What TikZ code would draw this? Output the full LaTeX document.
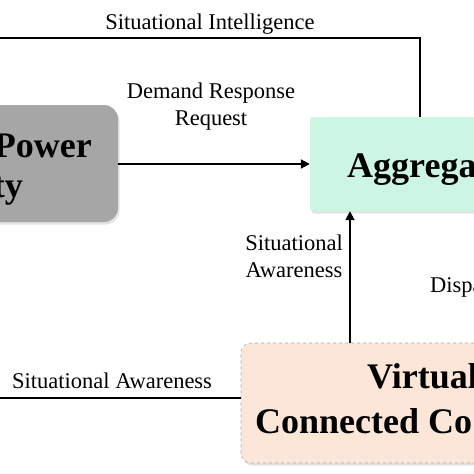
\documentclass[tikz,border=0pt]{standalone}
\usepackage{fontspec}
\setmainfont{Liberation Serif}
\usetikzlibrary{arrows.meta,shadows}
\definecolor{graybox}{RGB}{166,166,166}
\definecolor{mintbox}{RGB}{205,245,228}
\definecolor{peachbox}{RGB}{252,230,216}
\definecolor{dashgray}{RGB}{170,170,170}
\tikzset{
  conn/.style={line width=1.8pt, draw=black},
  tip/.style={-{Triangle[length=9pt,width=9pt]}},
  lbl/.style={font=\fontsize{22.5}{27}\selectfont, inner sep=0pt, align=center},
  big/.style={font=\fontsize{36}{44}\selectfont\bfseries, inner sep=0pt},
  shad/.style={drop shadow={opacity=0.22, shadow xshift=1.5pt, shadow yshift=-2.5pt}},
}
\begin{document}
\begin{tikzpicture}[x=1pt,y=-1pt]
\useasboundingbox (0,0) rectangle (474,474);
\clip (0,0) rectangle (474,474);
\fill[white] (0,0) rectangle (474,474);
% boxes
\node[shad, fill=graybox, rounded corners=14pt, minimum width=138pt, minimum height=117pt, inner sep=0pt] (util) at (49,163.5) {};
\node[shad, fill=mintbox, rounded corners=3pt, minimum width=180pt, minimum height=94pt, inner sep=0pt] (agg) at (400,164) {};
\node[shad, fill=peachbox, draw=dashgray, dashed, line width=0.6pt, rounded corners=10pt, minimum width=249pt, minimum height=120pt, inner sep=0pt] (vcc) at (365.5,403) {};
% box texts
\node[big, anchor=base east] (utilA) at (92,157) {Power};
\node[big, anchor=base east] (utilB) at (23,197) {ty};
\node[big, anchor=base west] (aggT) at (347,177) {Aggregator};
\node[big, anchor=base west] (vccA) at (367,388) {Virtual};
\node[big, anchor=base west] (vccB) at (255,433) {Connected Co};
% free ends
\coordinate (siL) at (-10,38);
\coordinate (siC) at (420,38);
\coordinate (saL) at (-10,398);
% connectors
\draw[conn] (agg.north -| siC) -- (siC) -- (siL);
\draw[conn,tip] (util.east |- 0,164) -- (agg.west |- 0,164);
\draw[conn,tip] (vcc.north -| 350,0) -- (agg.south -| 350,0);
\draw[conn] (vcc.west |- 0,398) -- (saL);
% labels
\node[lbl, anchor=base] (siT) at (210,29) {Situational Intelligence};
\node[lbl, anchor=base] (drT) at (211,125) {Demand Response\\Request};
\node[lbl, anchor=base] (saT) at (294,277) {Situational\\Awareness};
\node[lbl, anchor=base west] (dispT) at (430,292) {Dispatch};
\node[lbl, anchor=base west] (sa2T) at (12,388) {Situational Awareness};
\end{tikzpicture}
\end{document}
